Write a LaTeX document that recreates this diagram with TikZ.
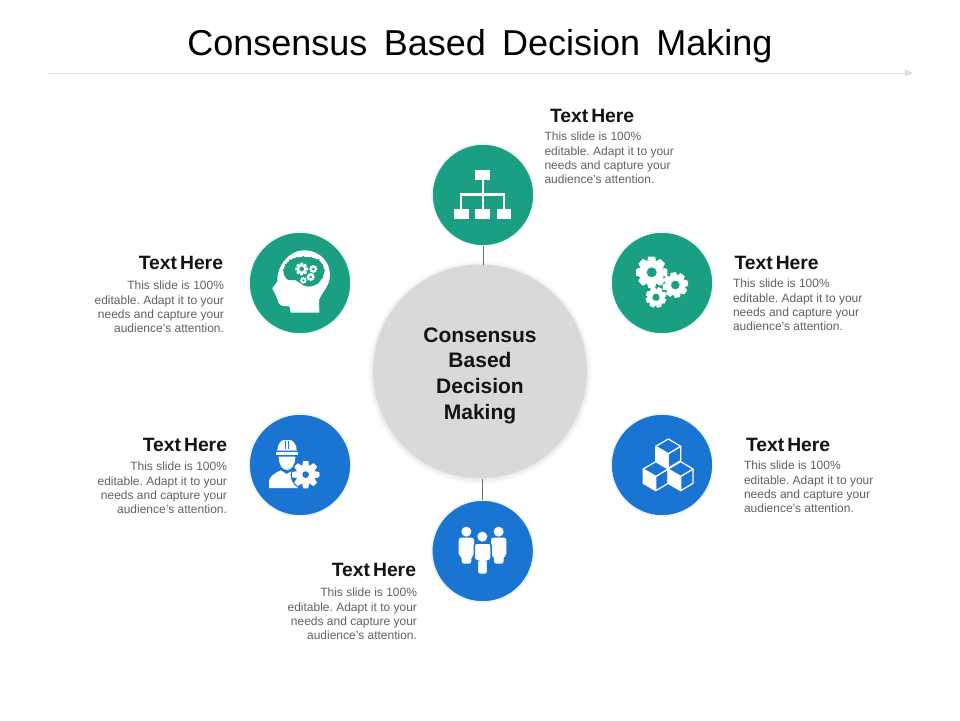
\documentclass[tikz,border=0pt]{standalone}
\usepackage{fontspec}
\setmainfont{Liberation Sans}
\usetikzlibrary{arrows.meta}
\definecolor{tealc}{HTML}{1A9F83}
\definecolor{bluec}{HTML}{1A75D2}
\definecolor{hubc}{HTML}{D9D9D9}
\definecolor{rulec}{HTML}{DCDCDC}
\definecolor{linkc}{HTML}{6E6E6E}
\newcommand{\titlefontcmd}{\fontsize{36}{40}\selectfont\setlength{\spaceskip}{16.3pt}}
\newcommand{\headfontcmd}{\bfseries\fontsize{19.3}{22}\selectfont\setlength{\spaceskip}{3pt}}
% #1 x, #2 y, #3 outer radius, #4 root radius, #5 hole radius, #6 teeth, #7 background colour, #8 rotation
\newcommand{\gearicon}[8]{%
  \pgfmathsetmacro{\gstep}{360/#6}%
  \pgfmathsetmacro{\gw}{0.62*3.1416*#4/#6*1.5}%
  \begin{scope}[shift={(#1,#2)},rotate=#8]
    \foreach \gi in {1,...,#6}{%
      \fill[white,rotate=\gi*\gstep] (-\gw,#4-2) -- (-0.72*\gw,#3) -- (0.72*\gw,#3) -- (\gw,#4-2) -- cycle;
    }
    \fill[white] (0,0) circle (#4);
    \fill[#7] (0,0) circle (#5);
  \end{scope}}
\newcommand{\cubeicon}[2]{%
  \begin{scope}[shift={(#1,#2)}]
    \draw[cubeline,fill=white] (167,115) -- (205,137) -- (205,180) -- (167,158) -- cycle;
    \draw[cubeline,fill=bluec] (242,115) -- (205,137) -- (205,180) -- (242,158) -- cycle;
    \draw[cubeline,fill=bluec] (205,93) -- (242,115) -- (205,137) -- (167,115) -- cycle;
  \end{scope}}
\tikzset{
  every node/.style={inner sep=0pt,outer sep=0pt},
  titletext/.style={font=\titlefontcmd,text=black},
  headtext/.style={font=\headfontcmd,text=black!92},
  bodytext/.style={font=\fontsize{12}{14.4}\selectfont\frenchspacing,text=black!62},
  hubtext/.style={font=\bfseries\fontsize{21}{25.7}\selectfont,align=center,text=black!92},
  hubnode/.style={circle,fill=hubc,minimum size=214pt},
  tealnode/.style={circle,fill=tealc,draw=tealc!8,line width=1.6pt,minimum size=102pt},
  bluenode/.style={circle,fill=bluec,draw=bluec!8,line width=1.6pt,minimum size=102pt},
  link/.style={draw=linkc,line width=0.8pt},
  cubeline/.style={draw=white,line width=1.2pt,line join=round},
  icon/.style={scale=1/3}
}
\begin{document}
\begin{tikzpicture}[x=1pt,y=-1pt]
\useasboundingbox (0,0) rectangle (960,720);
\fill[white] (0,0) rectangle (960,720);
% title
\node[titletext] (title) at (480,46) {Consensus Based Decision Making};
\coordinate (ruleL) at (48,73);
\coordinate (ruleR) at (913,73);
\draw[rulec,line width=0.8pt,-{Triangle[length=8pt,width=7pt]}] (ruleL) -- (ruleR);
% hub halo
\foreach \r/\o in {112/0.012,110.5/0.02,109/0.03}{\fill[black,opacity=\o] (480,372.5) circle (\r);}
\node[hubnode] (hub) at (480,371.5) {};
\node[hubtext] (hublabel) at (480,375.5) {Consensus\\Based\\Decision\\Making};
% circles
\node[tealnode] (n1) at (483,195) {};
\node[tealnode] (n2) at (662,283) {};
\node[bluenode] (n3) at (662,465) {};
\node[bluenode] (n4) at (482.7,551) {};
\node[bluenode] (n5) at (300,465) {};
\node[tealnode] (n6) at (300,283) {};
\draw[link] (n1.south) -- (n1.south |- hub.north);
\draw[link] (n4.north) -- (n4.north |- hub.south);
% org chart icon
\begin{scope}[shift={(420,130)},icon]
  \fill[white] (165,120) rectangle (210,150);
  \fill[white] (102,238) rectangle (146,268);
  \fill[white] (166,238) rectangle (210,268);
  \fill[white] (230,238) rectangle (273,268);
  \fill[white] (185,150) rectangle (191,240);
  \fill[white] (119,190) rectangle (256,197);
  \fill[white] (119,190) rectangle (126,240);
  \fill[white] (249,190) rectangle (256,240);
\end{scope}
% gears icon
\begin{scope}[shift={(600,225)},icon]
  \gearicon{155}{142}{47}{37}{15}{8}{tealc}{0}
  \gearicon{226}{180}{38}{30}{13}{8}{tealc}{10}
  \gearicon{168}{217}{31}{25}{11}{8}{tealc}{20}
\end{scope}
% cubes icon
\begin{scope}[shift={(600,408)},icon]
  \cubeicon{0}{0}
  \cubeicon{-37.5}{68}
  \cubeicon{37}{68}
\end{scope}
% people icon
\begin{scope}[shift={(422,470)},icon]
  \foreach \px in {0,97}{
    \fill[white] (133+\px,185) circle (15);
    \fill[white,rounded corners=2.5pt] (110+\px,258) -- (110+\px,203) -- (156+\px,203) -- (156+\px,258) -- (148+\px,258) -- (148+\px,281) -- (119+\px,281) -- (119+\px,258) -- cycle;
  }
  \fill[bluec] (181,200) circle (19);
  \fill[white] (181,200) circle (15);
  \draw[bluec,line width=1.5pt,fill=white,rounded corners=2.5pt] (157,272) -- (157,219) -- (207,219) -- (207,272) -- (197,272) -- (197,313) -- (166,313) -- (166,272) -- cycle;
\end{scope}
% worker icon
\begin{scope}[shift={(240,408)},icon]
  \fill[white] (87,240) -- (87,220) .. controls (88,205) and (105,195) .. (122,187) -- (140,198) -- (158,187) .. controls (165,192) and (172,198) .. (175,205) -- (175,240) -- cycle;
  \fill[white] (116,146) -- (166,146) .. controls (166,172) and (154,186) .. (141,186) .. controls (128,186) and (116,172) .. (116,146) -- cycle;
  \fill[white] (112,128) .. controls (112,110) and (122,98) .. (130,96) -- (152,96) .. controls (162,100) and (170,112) .. (170,128) -- cycle;
  \fill[white] (107,131) rectangle (173,142);
  \fill[bluec] (135,100) rectangle (139,122);
  \fill[bluec] (143,100) rectangle (147,122);
  \fill[bluec] (197,200) circle (45);
  \gearicon{197}{200}{41}{29}{10}{8}{bluec}{0}
\end{scope}
% head icon
\begin{scope}[shift={(240,225)},icon]
  \fill[white] (152,263) -- (148,243) .. controls (130,245) and (116,244) .. (113,225) -- (109,214) -- (104,205) -- (97,190) -- (112,170) .. controls (110,120) and (150,76) .. (190,76) .. controls (244,76) and (270,115) .. (270,150) .. controls (270,182) and (247,200) .. (237,225) -- (238,263) -- cycle;
  \fill[tealc] plot[smooth cycle,tension=0.7] coordinates {(131,135) (150,106) (190,96) (235,105) (252,135) (242,166) (216,184) (190,181) (168,166) (140,162)};
  \foreach \bx/\by in {150/106,170/99,190/96,213/98,235/105,246/120,252/136,247/156,231/175,131/135,137/120}{\fill[tealc] (\bx,\by) circle (3.5);}
  \gearicon{185}{132}{19}{14}{7}{8}{tealc}{0}
  \gearicon{220}{132}{12}{9}{4.5}{8}{tealc}{0}
  \gearicon{212}{156}{12}{9}{4.5}{8}{tealc}{0}
  \gearicon{190}{166}{10}{7}{3.5}{8}{tealc}{0}
\end{scope}
% labels
\node[headtext,anchor=west] (h1) at (550,116) {Text Here};
\node[bodytext,anchor=west,align=left] (b1) at (544.5,158) {This slide is 100\%\\editable. Adapt it to your\\needs and capture your\\audience's attention.};
\node[headtext,anchor=west] (h2) at (734.5,263) {Text Here};
\node[bodytext,anchor=west,align=left] (b2) at (733,305) {This slide is 100\%\\editable. Adapt it to your\\needs and capture your\\audience's attention.};
\node[headtext,anchor=west] (h3) at (746,445) {Text Here};
\node[bodytext,anchor=west,align=left] (b3) at (744,487) {This slide is 100\%\\editable. Adapt it to your\\needs and capture your\\audience's attention.};
\node[headtext,anchor=east] (h4) at (416,570) {Text Here};
\node[bodytext,anchor=east,align=right] (b4) at (417,614) {This slide is 100\%\\editable. Adapt it to your\\needs and capture your\\audience's attention.};
\node[headtext,anchor=east] (h5) at (227,445) {Text Here};
\node[bodytext,anchor=east,align=right] (b5) at (227,488) {This slide is 100\%\\editable. Adapt it to your\\needs and capture your\\audience's attention.};
\node[headtext,anchor=east] (h6) at (223,263) {Text Here};
\node[bodytext,anchor=east,align=right] (b6) at (224,307) {This slide is 100\%\\editable. Adapt it to your\\needs and capture your\\audience's attention.};
\end{tikzpicture}
\end{document}
